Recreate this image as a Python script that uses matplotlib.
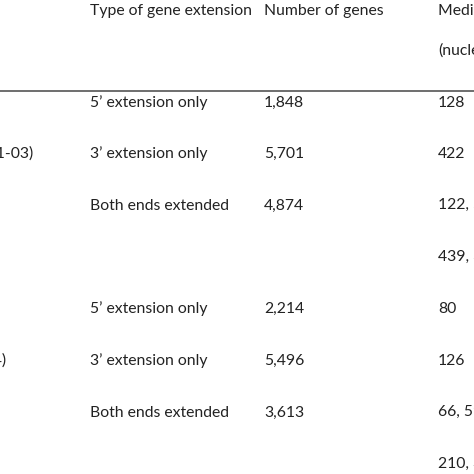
import matplotlib
matplotlib.use("Agg")
import matplotlib.pyplot as plt

headers = ["Type of gene extension", "Number of genes", "Median extension length"]
header2 = "(nucleotides)"
types = ["5\u2019 extension only", "3\u2019 extension only", "Both ends extended", "",
         "5\u2019 extension only", "3\u2019 extension only", "Both ends extended", ""]
counts = ["1,848", "5,701", "4,874", "", "2,214", "5,496", "3,613", ""]
medians = ["128", "422", "122, 5\u2019 end", "439, 3\u2019 end", "80", "126", "66, 5\u2019 end", "210, 3\u2019 end"]
groups = ["Release (2011-03)", "Release (2014)"]

fig = plt.figure(figsize=(4.74, 4.74), dpi=100)
ax = fig.add_axes([0, 0, 1, 1])
ax.set_xlim(0, 474); ax.set_ylim(474, 0); ax.axis("off")
fs = 11.3
font = "Lato"
kw = dict(fontsize=fs, family=font, color="#222222", va="center", clip_on=False)
colx = [90, 264, 438]
for x, h in zip(colx, headers):
    ax.text(x, 11, h, ha="left", **kw)
ax.text(colx[2], 51, header2, ha="left", **kw)
ax.plot([0, 474], [91, 91], color="#555555", lw=1.2)
rows_y = [103, 154, 206, 258, 309, 361, 413, 465]
for y, t, c, m in zip(rows_y, types, counts, medians):
    ax.text(colx[0], y, t, ha="left", **kw)
    ax.text(colx[1], y, c, ha="left", **kw)
    ax.text(colx[2], y, m, ha="left", **kw)
ax.text(33, 154, groups[0], ha="right", **kw)
ax.text(6, 361, groups[1], ha="right", **kw)
fig.savefig("out.png", dpi=100)
